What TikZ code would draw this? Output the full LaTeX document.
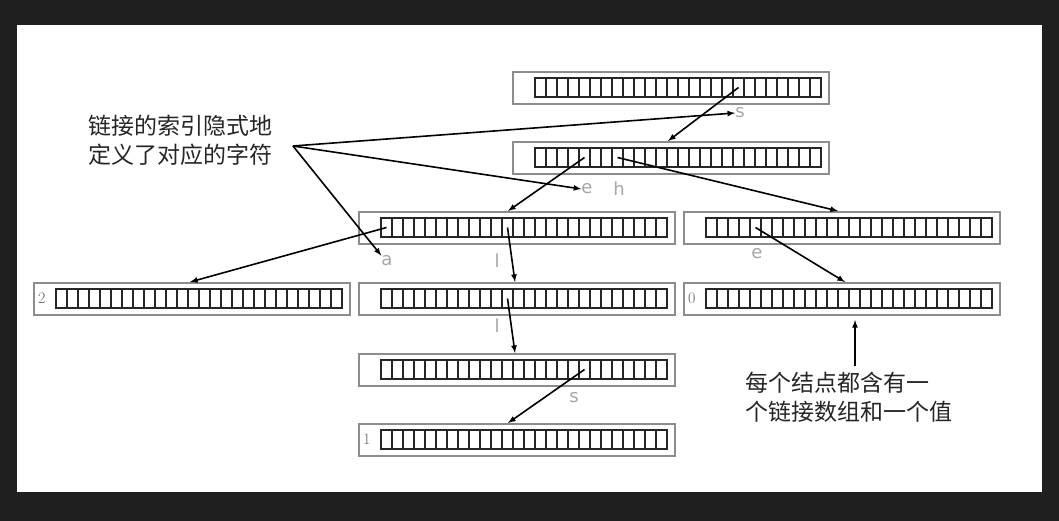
\documentclass[tikz,border=0pt]{standalone}
\usepackage{fontspec}
\newfontfamily\cjk{Noto Sans CJK SC}
\setsansfont{DejaVu Sans}
\usetikzlibrary{positioning}
\tikzset{
  outerbox/.style={draw=black!45,line width=1.8pt,minimum width=316pt,minimum height=32pt,inner sep=0pt},
  cellbox/.style={draw=black!85,line width=1.3pt},
  link/.style={-latex,line width=1.6pt},
  charlab/.style={text=black!35,font=\sffamily\fontsize{18}{18}\selectfont,inner sep=0pt},
  vallab/.style={text=black!60,font=\fontsize{16}{16}\selectfont,inner sep=0pt},
  note/.style={font=\cjk\fontsize{23}{29}\selectfont,align=left,inner sep=0pt,text=black!85}
}
% one trie node: name, left x, top y, value
\newcommand{\trienode}[4]{%
  \node[outerbox,anchor=north west] (#1) at (#2,#3) {};
  \foreach \i in {0,...,25}{
    \draw[cellbox] (#2+23+11*\i,#3+7) rectangle (#2+34+11*\i,#3+26);
    \coordinate (#1-\i) at (#2+28.5+11*\i,#3+16.5);
  }
  \node[vallab,anchor=west] at (#2+5,#3+16) {#4};
}
\begin{document}
\begin{tikzpicture}[x=1pt,y=-1pt]
\fill[black!88] (0,0) rectangle (1059,521);
\fill[white] (17,25) rectangle (1042,492);
\useasboundingbox (0,0) rectangle (1059,521);

\trienode{root}{512}{71}{}
\trienode{s}{512}{141}{}
\trienode{se}{358}{211}{}
\trienode{sh}{683}{211}{}
\trienode{sea}{33}{282}{2}
\trienode{sel}{358}{282}{}
\trienode{she}{683}{282}{0}
\trienode{sell}{358}{353}{}
\trienode{sells}{358}{423}{1}

% links
\draw[link] (root-18) -- (s.north -| 668,0);
\draw[link] (s-4) -- (se.north -| 508,0);
\draw[link] (s-7) -- (sh.north -| 838,0);
\draw[link] (se-0) -- (sea.north -| 190,0);
\draw[link] (se-11) -- (sel.north -| 515,0);
\draw[link] (sh-4) -- (she.north -| 845,0);
\draw[link] (sel-11) -- (sell.north -| 515,0);
\draw[link] (sell-18) -- (sells.north -| 508,0);

% characters
\node[charlab] (cs) at (740,113) {s};
\node[charlab] (ce) at (587,189) {e};
\node[charlab] at (619,189) {h};
\node[charlab] (ca) at (387,261) {a};
\node[charlab] at (497,261) {l};
\node[charlab] at (757,254) {e};
\node[charlab] at (497,326) {l};
\node[charlab] at (574,398) {s};

% notes
\node[note,anchor=north west] (idx) at (88,115) {链接的索引隐式地\\定义了对应的字符};
\coordinate (idxr) at (293,146);
\draw[link] (idxr) -- (cs.west);
\draw[link] (idxr) -- (ce.west);
\draw[link] (idxr) -- (ca.north west);
\node[note,anchor=north west] (each) at (745,372) {每个结点都含有一\\个链接数组和一个值};
\draw[link] (855,366) -- (855,320);
\end{tikzpicture}
\end{document}
